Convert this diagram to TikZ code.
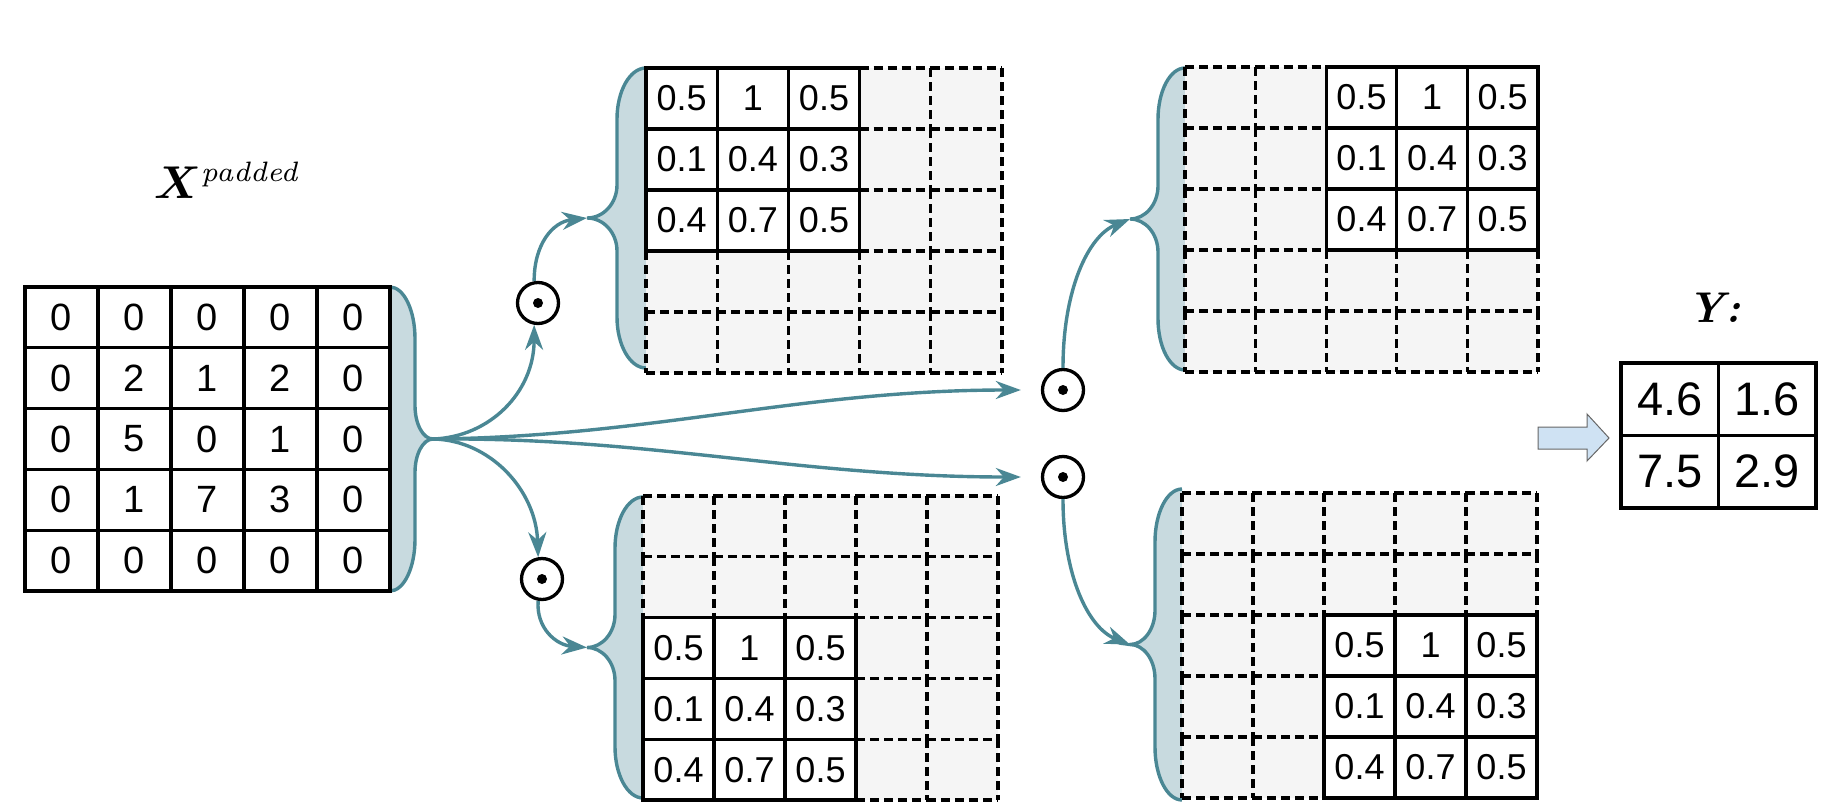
\documentclass[tikz,border=0pt]{standalone}
\usepackage{fontspec}
\usepackage{bm}
\usetikzlibrary{arrows.meta}
\newfontfamily\numfont{Liberation Sans}
\definecolor{tealc}{RGB}{74,135,148}
\definecolor{bracefill}{RGB}{200,218,223}
\definecolor{cellgray}{RGB}{245,245,245}
\definecolor{arrowblue}{RGB}{207,226,243}
\tikzset{
  dgrid/.style={line width=3.2pt, dash pattern=on 9pt off 5pt},
  kcell/.style={draw, fill=white, line width=3.2pt, inner sep=0pt, outer sep=0pt, font=\numfont\fontsize{36}{36}\selectfont},
  xcell/.style={draw, fill=white, line width=3.2pt, inner sep=0pt, outer sep=0pt, minimum width=73, minimum height=60.8, font=\numfont\fontsize{38}{38}\selectfont},
  ycell/.style={draw, fill=white, line width=3.2pt, inner sep=0pt, outer sep=0pt, minimum width=97.5, minimum height=72.5, font=\numfont\fontsize{47}{47}\selectfont},
  conn/.style={draw=tealc, line width=3.4pt, -{Stealth[length=25pt,width=18pt,inset=8pt]}},
  bracepath/.style={draw=tealc, line width=3.4pt},
  odot/.style={circle, draw, line width=3.3pt, minimum size=41, inner sep=0pt},
}
% brace path: #1 edge x, #2 top y, #3 bottom y, #4 vertical x, #5 tip x
\newcommand\bracecurve[5]{%
  (#1,#2) .. controls ({#1-0.552*(#1-#4)},#2) and (#4,{#2+0.448*0.17*(#3-#2)}) .. (#4,{#2+0.17*(#3-#2)})
  -- (#4,{(#2+#3)/2-0.11*(#3-#2)})
  .. controls (#4,{(#2+#3)/2-0.11*0.448*(#3-#2)}) and ({#5+0.552*(#4-#5)},{(#2+#3)/2}) .. (#5,{(#2+#3)/2})
  .. controls ({#5+0.552*(#4-#5)},{(#2+#3)/2}) and (#4,{(#2+#3)/2+0.11*0.448*(#3-#2)}) .. (#4,{(#2+#3)/2+0.11*(#3-#2)})
  -- (#4,{#3-0.17*(#3-#2)})
  .. controls (#4,{#3-0.448*0.17*(#3-#2)}) and ({#1-0.552*(#1-#4)},#3) .. (#1,#3)
}
% brace: #1 tip name, #2 edge x, #3 top y, #4 bottom y, #5 vertical x, #6 tip x
\newcommand\mybrace[6]{%
  \fill[bracefill] \bracecurve{#2}{#3}{#4}{#5}{#6} -- cycle;
  \draw[bracepath] \bracecurve{#2}{#3}{#4}{#5}{#6};
  \coordinate (#1) at (#6,{(#3+#4)/2});
}
% matrix with kernel: #1 name, #2 x0, #3 y0, #4 cw, #5 ch, #6 kernel col, #7 kernel row
\newcommand\kmat[7]{%
  \fill[cellgray] (#2,#3) rectangle ({#2+5*#4},{#3+5*#5});
  \foreach \ii in {0,...,5} {
    \foreach \jj in {0,...,4} {
      \draw[dgrid] ({#2+\ii*#4},{#3+\jj*#5}) -- ({#2+\ii*#4},{#3+(\jj+1)*#5});
      \draw[dgrid] ({#2+\jj*#4},{#3+\ii*#5}) -- ({#2+(\jj+1)*#4},{#3+\ii*#5});
    }
  }
  \foreach \rr/\cc/\vv in {0/0/0.5,0/1/1,0/2/0.5,1/0/0.1,1/1/0.4,1/2/0.3,2/0/0.4,2/1/0.7,2/2/0.5} {
    \node[kcell, minimum width=#4, minimum height=#5] (#1-\rr-\cc)
      at ({#2+(#6+\cc+0.5)*#4},{#3+(#7+\rr+0.5)*#5}) {\vv};
  }
}
\begin{document}
\begin{tikzpicture}[x=1pt,y=-1pt]
\useasboundingbox (0,0) rectangle (1831,806);

% braces
\mybrace{xb}{390}{287}{591}{415}{433}
\mybrace{tmb}{646}{68}{368}{617}{587}
\mybrace{bmb}{643}{497}{798}{615}{587}
\mybrace{trb}{1185}{68}{370}{1158}{1130}
\mybrace{brb}{1182}{489}{800}{1155}{1130}

% input matrix
\foreach \rr/\row in {0/{0,0,0,0,0},1/{0,2,1,2,0},2/{0,5,0,1,0},3/{0,1,7,3,0},4/{0,0,0,0,0}} {
  \foreach \vv [count=\cc from 0] in \row {
    \node[xcell] (x-\rr-\cc) at ({25+(\cc+0.5)*73},{287+(\rr+0.5)*60.8}) {\vv};
  }
}
\node[anchor=base west, scale=4.6, inner sep=0pt] (xlab) at (153,198) {$\bm{X}^{\mbox{\fontsize{6.1}{7}\selectfont\itshape padded}}$};

% four kernel positions
\kmat{tm}{646}{68}{71.2}{61}{0}{0}
\kmat{bm}{643}{496}{71}{60.8}{0}{2}
\kmat{tr}{1185}{67}{70.6}{61}{2}{0}
\kmat{br}{1182}{493}{71}{61}{2}{2}

% odot nodes
\node[odot] (c1) at (538,303) {};
\node[odot] (c3) at (542,579) {};
\node[odot] (c2) at (1063,390) {};
\node[odot] (c4) at (1063,477) {};
\foreach \n in {c1,c2,c3,c4} { \fill (\n) circle[radius=5]; }

% connectors
\draw[conn] (xb) .. controls (490,437) and (534,392) .. (c1.-100);
\draw[conn] (c1.100) .. controls (534,245) and (552,222) .. (tmb);
\draw[conn] (xb) .. controls (490,440) and (536,490) .. (c3.100);
\draw[conn] (c3.-100) .. controls (536,628) and (556,645) .. (bmb);
\draw[conn, shorten >=20pt] (xb) .. controls (650,437) and (800,390) .. (c2.west);
\draw[conn, shorten >=20pt] (xb) .. controls (650,437) and (800,477) .. (c4.west);
\draw[conn] (c2.north) .. controls (1063,290) and (1088,236) .. (trb);
\draw[conn] (c4.south) .. controls (1063,575) and (1088,628) .. (brb);

% result
\draw[draw=black!60, line width=1pt, fill=arrowblue] (1538,427) -- (1587,427) -- (1587,414) -- (1609,438) -- (1587,461) -- (1587,449) -- (1538,449) -- cycle;
\foreach \rr/\cc/\vv in {0/0/4.6,0/1/1.6,1/0/7.5,1/1/2.9} {
  \node[ycell] (y-\rr-\cc) at ({1621+(\cc+0.5)*97.5},{363+(\rr+0.5)*72.5}) {\vv};
}
\node[anchor=base west, scale=4.3, inner sep=0pt] (ylab) at (1687,322) {\textbf{\textit{Y:}}};
\end{tikzpicture}
\end{document}
